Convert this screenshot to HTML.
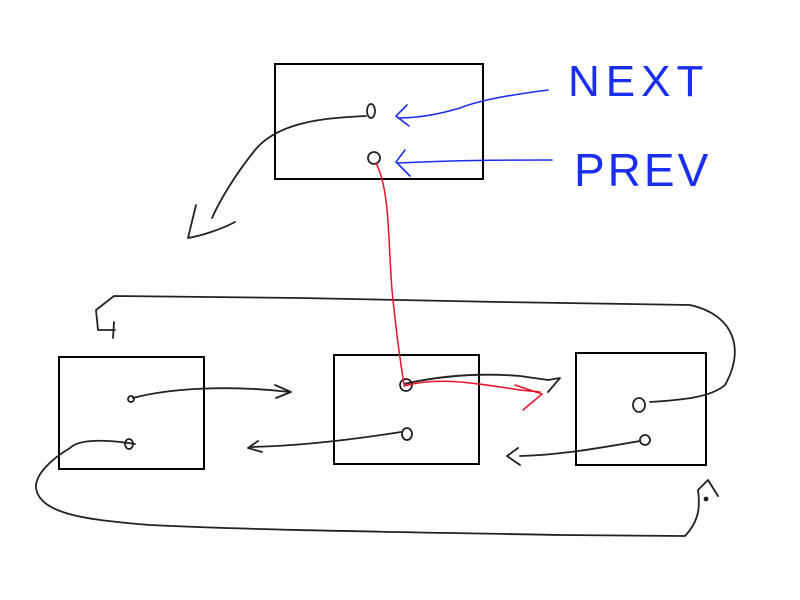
<!DOCTYPE html>
<html><head><style>body{margin:0;background:#fff}svg{display:block}</style></head><body>
<svg width="800" height="600" viewBox="0 0 800 600" xmlns="http://www.w3.org/2000/svg">
<rect width="800" height="600" fill="#fff"/>
<g fill="none" stroke="#000" stroke-width="2">
<rect x="275" y="64" width="208" height="115"/>
<rect x="59" y="357" width="145" height="112"/>
<rect x="334" y="355" width="145" height="109"/>
<rect x="576" y="353" width="130" height="112"/>
</g>
<g fill="none" stroke="#222" stroke-width="1.8" stroke-linejoin="round" stroke-linecap="round">
<ellipse cx="371" cy="111" rx="4" ry="7"/>
<ellipse cx="374" cy="158" rx="6" ry="6"/>
<path d="M366 116 C330 118 280 120 255 150 C235 175 220 200 212 218"/>
<path d="M196 205 L188 238 C200 236 220 230 235 222"/>
<path d="M115 330 L98 330 L96 310 L114 296 L300 298 L500 302 L690 305 C735 315 745 350 725 385 C710 398 680 400 650 402"/>
<path d="M114 322 L113 338"/>
<ellipse cx="639" cy="405" rx="6" ry="7"/>
<ellipse cx="645" cy="440" rx="5" ry="5"/>
<path d="M640 441 C600 448 560 455 520 456"/>
<path d="M518 448 L507 456 L520 465"/>
<path d="M401 432 C350 440 300 446 250 447"/>
<path d="M258 441 L248 448 L262 452"/>
<ellipse cx="407" cy="434" rx="5" ry="6"/>
<ellipse cx="131" cy="399" rx="3" ry="3"/>
<path d="M133 398 C170 388 230 385 290 392"/>
<path d="M275 385 L291 392 L276 398"/>
<ellipse cx="129" cy="444" rx="4" ry="5"/>
<path d="M135 444 C110 440 80 438 70 448 C50 460 35 475 36 488 C40 515 90 520 150 525 C250 530 400 532 560 535 L685 536 C700 520 700 505 698 490 L708 480 L718 496"/>
<path d="M404 384 C430 378 470 372 520 376 L548 380 L560 378 L548 392"/>
<circle cx="706" cy="499" r="1.5" fill="#000"/>
</g>
<g fill="none" stroke="#e8102a" stroke-width="1.5" stroke-linecap="round">
<ellipse cx="406" cy="385" rx="6" ry="6" stroke="#000"/>
<path d="M376 163 C390 190 388 240 392 290 C396 330 400 360 404 384"/>
<path d="M404 386 C440 376 480 384 520 390 L540 392"/>
<path d="M515 385 L542 394 L523 410"/>
</g>
<g fill="none" stroke="#1a2ef0" stroke-width="1.6" stroke-linecap="round">
<path d="M548 90 C510 95 480 100 460 108 C440 114 420 118 398 118"/>
<path d="M407 105 L396 116 L409 126"/>
<path d="M552 160 C510 160 460 160 398 163"/>
<path d="M405 150 L396 162 L410 176"/>
</g>
<text x="568" y="96" font-family="Liberation Sans, sans-serif" font-size="44" fill="#1a2ef0" letter-spacing="6">NEXT</text>
<text x="574" y="186" font-family="Liberation Sans, sans-serif" font-size="46" fill="#1a2ef0" letter-spacing="3">PREV</text>
</svg>
</body></html>
